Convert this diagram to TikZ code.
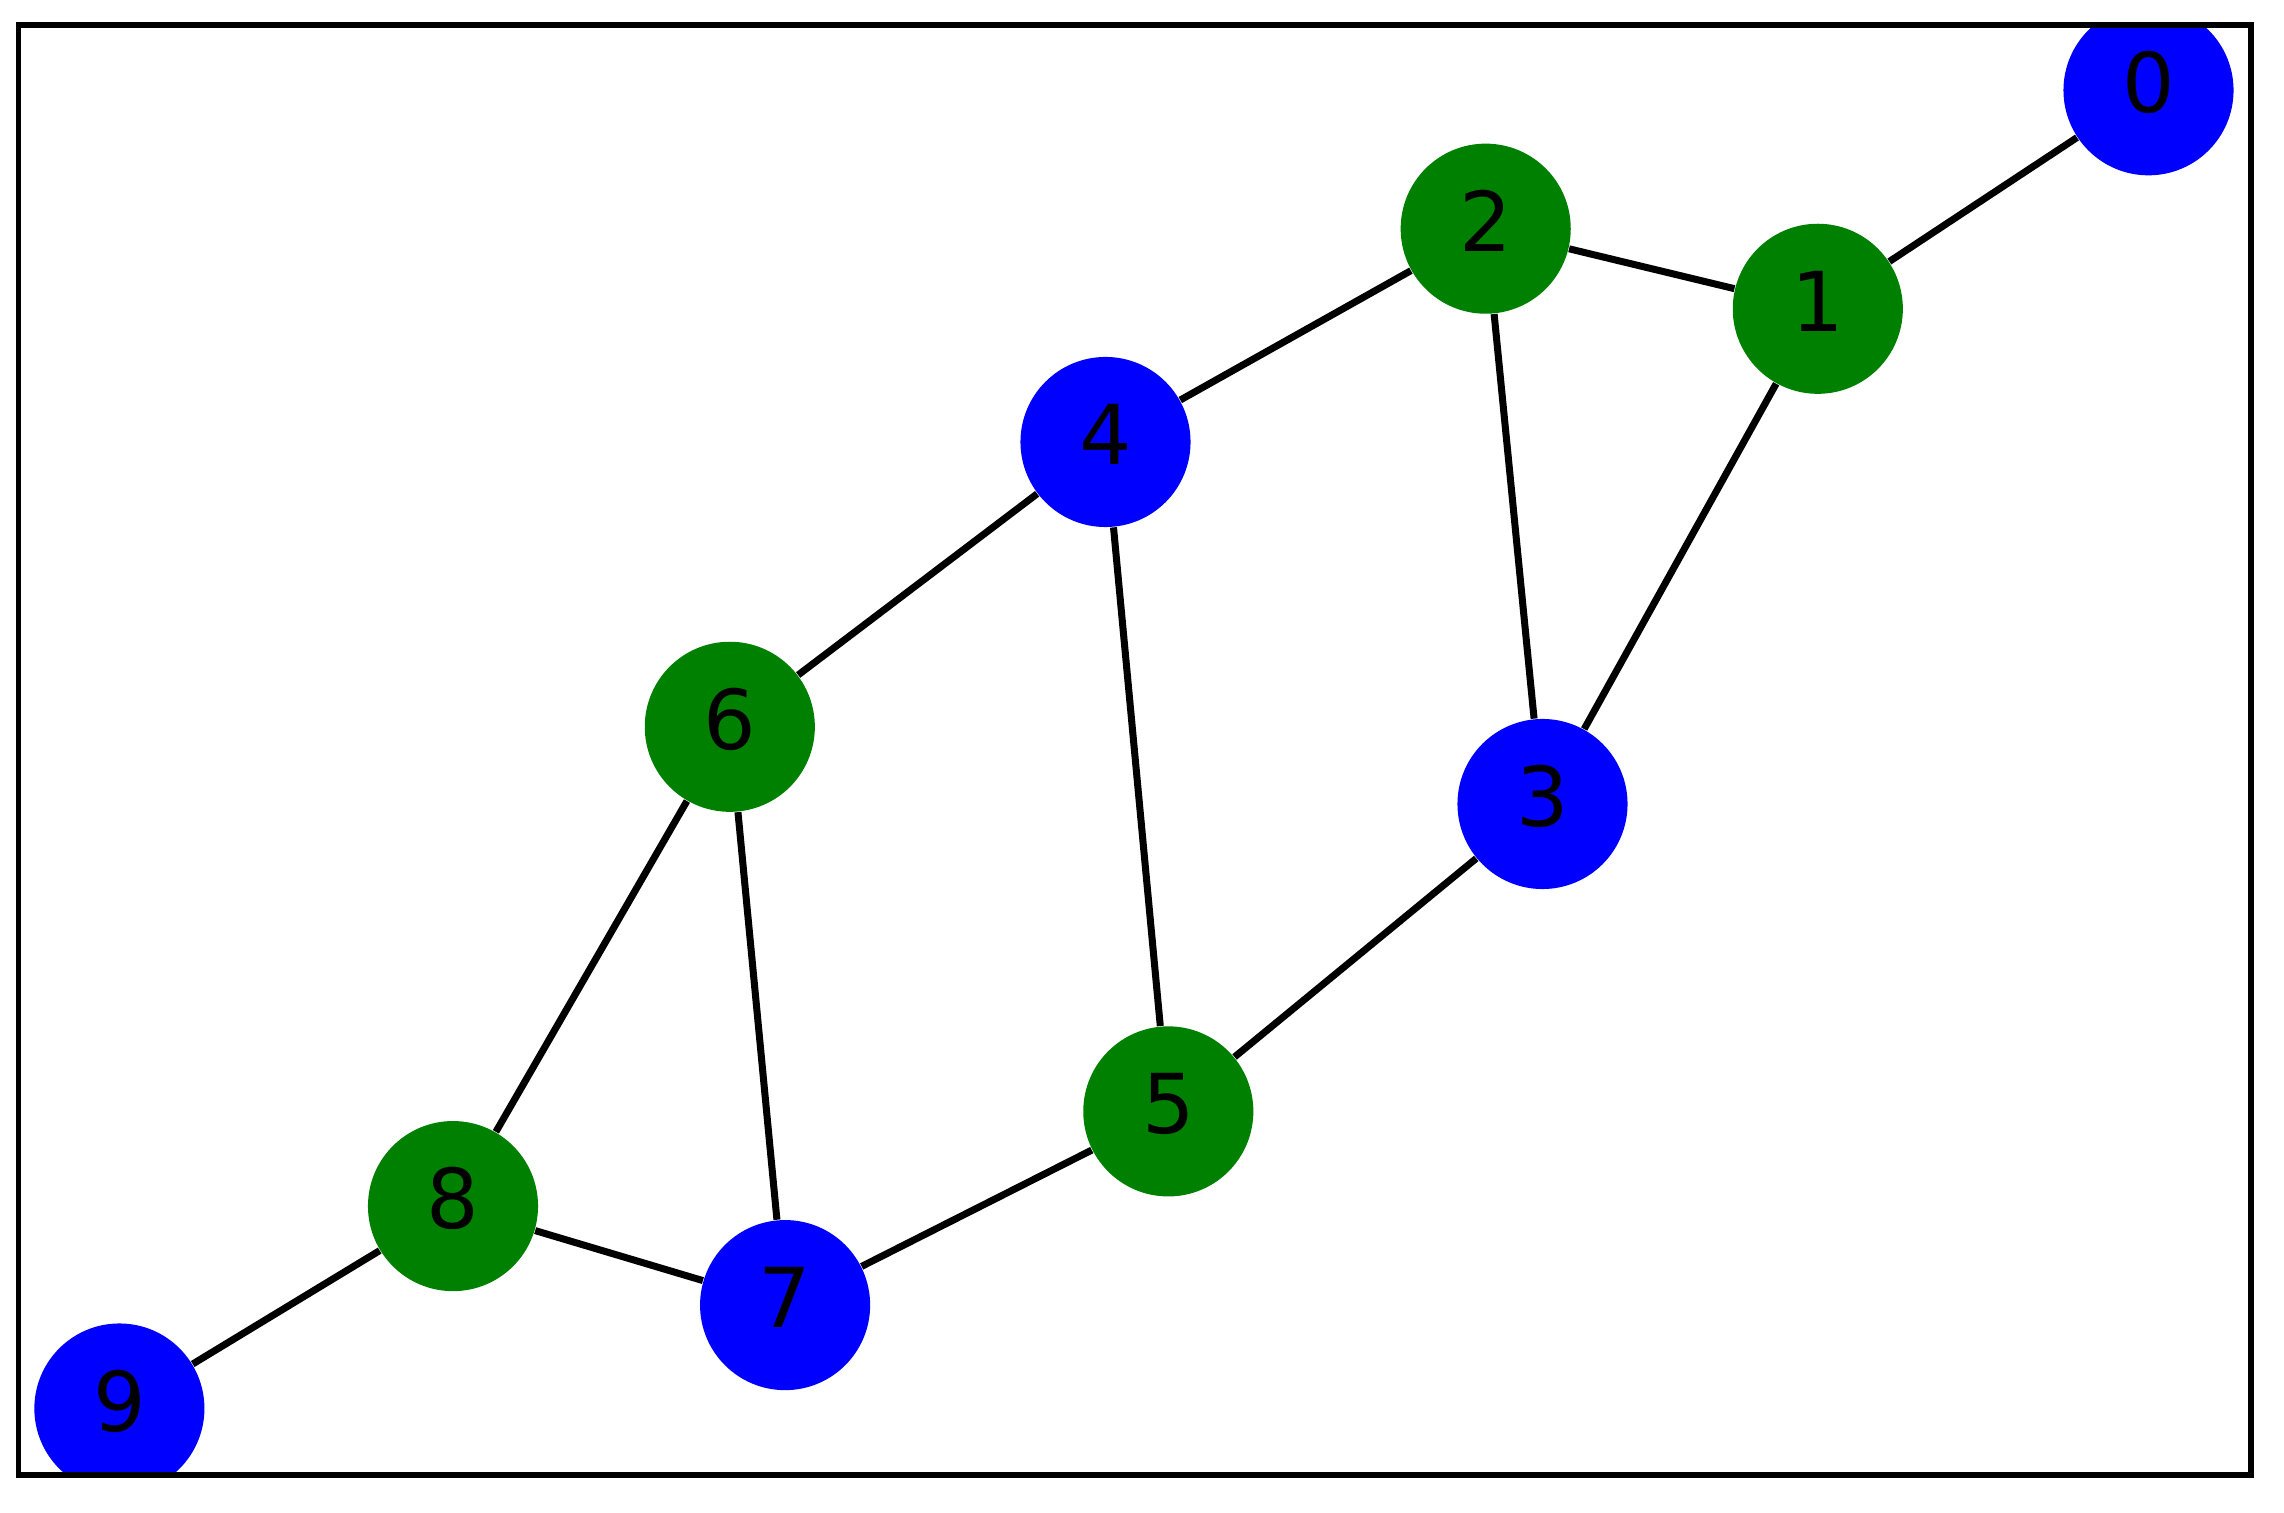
\documentclass[tikz,border=0pt]{standalone}
\usepackage{fontspec}
\setmainfont{DejaVu Sans}
\begin{document}
\begin{tikzpicture}[x=0.01cm,y=-0.01cm,
  vtx/.style={circle,inner sep=0pt,minimum size=1.7cm,text height=0.6cm,text depth=0.15cm,
    font=\fontsize{23.5}{23.5}\selectfont,text=black},
  bnode/.style={vtx,fill={rgb,255:red,0;green,0;blue,255}},
  gnode/.style={vtx,fill={rgb,255:red,0;green,128;blue,0}},
  edge/.style={line width=0.07cm,black}]
\useasboundingbox (0,0) rectangle (2284,1513);
\begin{scope}
\clip (18.3,24.8) rectangle (2251,1474.8);
\node[bnode] (n0) at (2148.5,90.3) {0};
\node[gnode] (n1) at (1817.8,308.8) {1};
\node[gnode] (n2) at (1485.7,228.7) {2};
\node[bnode] (n3) at (1542.5,804.0) {3};
\node[bnode] (n4) at (1105.5,442) {4};
\node[gnode] (n5) at (1168.3,1111.4) {5};
\node[gnode] (n6) at (729.8,726.8) {6};
\node[bnode] (n7) at (785.1,1305.1) {7};
\node[gnode] (n8) at (453.0,1206.1) {8};
\node[bnode] (n9) at (119.4,1408.5) {9};
\end{scope}
\draw[edge] (n0) -- (n1);
\draw[edge] (n1) -- (n2);
\draw[edge] (n1) -- (n3);
\draw[edge] (n2) -- (n4);
\draw[edge] (n2) -- (n3);
\draw[edge] (n4) -- (n6);
\draw[edge] (n4) -- (n5);
\draw[edge] (n3) -- (n5);
\draw[edge] (n6) -- (n8);
\draw[edge] (n6) -- (n7);
\draw[edge] (n5) -- (n7);
\draw[edge] (n8) -- (n7);
\draw[edge] (n8) -- (n9);
\draw[line width=0.055cm] (18.3,24.8) rectangle (2251,1474.8);
\end{tikzpicture}
\end{document}
